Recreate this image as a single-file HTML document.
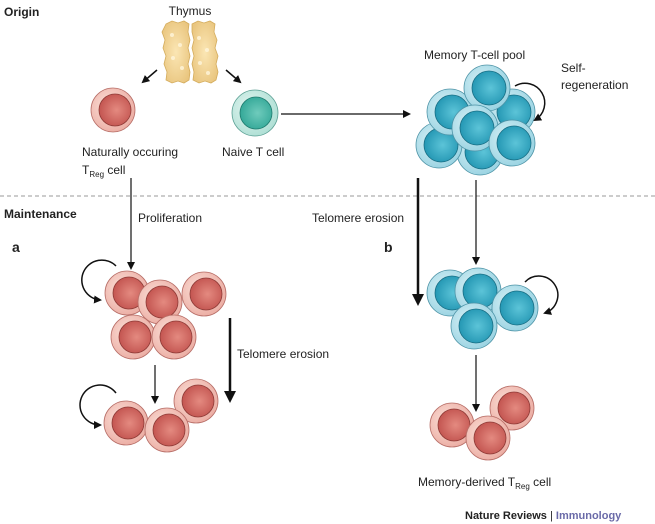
<!DOCTYPE html>
<html><head><style>body{margin:0;background:#fff}svg{display:block}text{font-family:"Liberation Sans",sans-serif;font-size:12px;fill:#222}</style></head><body>
<svg width="655" height="524" viewBox="0 0 655 524" xmlns="http://www.w3.org/2000/svg">
<defs>
<radialGradient id="ri" cx="0.55" cy="0.5" r="0.6"><stop offset="0" stop-color="#e48a80"/><stop offset="1" stop-color="#c0504c"/></radialGradient>
<radialGradient id="ro" cx="0.4" cy="0.4" r="0.7"><stop offset="0" stop-color="#fbe0d8"/><stop offset="1" stop-color="#eaa89e"/></radialGradient>
<radialGradient id="bi" cx="0.55" cy="0.5" r="0.6"><stop offset="0" stop-color="#5cc4d8"/><stop offset="1" stop-color="#1f93b0"/></radialGradient>
<radialGradient id="bo" cx="0.4" cy="0.4" r="0.7"><stop offset="0" stop-color="#d9f1f6"/><stop offset="1" stop-color="#93d0e0"/></radialGradient>
<radialGradient id="ti" cx="0.55" cy="0.5" r="0.6"><stop offset="0" stop-color="#6fcbbc"/><stop offset="1" stop-color="#2fa595"/></radialGradient>
<radialGradient id="to" cx="0.4" cy="0.4" r="0.7"><stop offset="0" stop-color="#e3f5f0"/><stop offset="1" stop-color="#a9ddd2"/></radialGradient>
<radialGradient id="th" cx="0.5" cy="0.5" r="0.6"><stop offset="0" stop-color="#fbe6b4"/><stop offset="1" stop-color="#e9c57e"/></radialGradient>
<marker id="ah" markerWidth="8" markerHeight="8" refX="6" refY="4" orient="auto" markerUnits="userSpaceOnUse"><path d="M0,0 L8,4 L0,8 Z" fill="#111"/></marker>
<marker id="ahb" markerWidth="12" markerHeight="12" refX="8" refY="6" orient="auto" markerUnits="userSpaceOnUse"><path d="M0,0 L12,6 L0,12 Z" fill="#111"/></marker>
<g id="rc"><circle r="22" fill="url(#ro)" stroke="#b86f68" stroke-width="0.8"/><circle cx="2" r="16" fill="url(#ri)" stroke="#8e3a36" stroke-width="0.8"/></g>
<g id="bc"><circle r="23" fill="url(#bo)" stroke="#4d93a6" stroke-width="0.8"/><circle cx="2" r="17" fill="url(#bi)" stroke="#176d83" stroke-width="0.8"/></g>
<g id="tc"><circle r="23" fill="url(#to)" stroke="#5a9f93" stroke-width="0.8"/><circle cx="1" r="16" fill="url(#ti)" stroke="#1d7a6d" stroke-width="0.8"/></g>
</defs>
<text x="4" y="16" style="font-weight:bold">Origin</text>
<text x="4" y="218" style="font-weight:bold">Maintenance</text>
<text x="12" y="252" style="font-weight:bold;font-size:14px">a</text>
<text x="384" y="252" style="font-weight:bold;font-size:14px">b</text>
<line x1="0" y1="196" x2="655" y2="196" stroke="#777" stroke-dasharray="4,3" stroke-width="0.8"/>
<text x="190" y="15" text-anchor="middle">Thymus</text>
<g fill="url(#th)" stroke="#d4ac5c" stroke-width="0.8">
<path d="M166,24 l6,-3 l6,2 l6,-2 l5,3 l-1,8 l2,8 l-2,8 l2,8 l-2,8 l2,8 l-1,8 l-5,3 l-6,-2 l-6,2 l-6,-3 l1,-8 l-3,-8 l2,-8 l-3,-8 l2,-8 l-3,-8z"/>
<path d="M192,24 l6,-3 l6,2 l6,-2 l5,3 l-1,8 l3,8 l-2,8 l3,8 l-2,8 l2,8 l-2,8 l-5,3 l-6,-2 l-6,2 l-6,-3 l1,-8 l-2,-8 l2,-8 l-2,-8 l2,-8 l-2,-8z"/>
</g>
<g fill="#fff6dc" opacity="0.8">
<circle cx="172" cy="35" r="2"/><circle cx="180" cy="45" r="2"/><circle cx="173" cy="58" r="2"/><circle cx="182" cy="68" r="2"/><circle cx="199" cy="38" r="2"/><circle cx="207" cy="50" r="2"/><circle cx="200" cy="63" r="2"/><circle cx="208" cy="73" r="2"/>
</g>
<line x1="157" y1="70" x2="143" y2="82" stroke="#111" stroke-width="1.5" marker-end="url(#ah)"/>
<line x1="226" y1="70" x2="240" y2="82" stroke="#111" stroke-width="1.5" marker-end="url(#ah)"/>
<use href="#rc" x="113" y="110"/>
<use href="#tc" x="255" y="113"/>
<text x="82" y="156">Naturally occuring</text>
<text x="82" y="174">T<tspan font-size="8" dy="3">Reg</tspan><tspan dy="-3"> cell</tspan></text>
<text x="222" y="156">Naive T cell</text>
<line x1="281" y1="114" x2="409" y2="114" stroke="#111" stroke-width="1.2" marker-end="url(#ah)"/>
<text x="424" y="59">Memory T-cell pool</text>
<use href="#bc" x="512" y="112"/><use href="#bc" x="480" y="152"/><use href="#bc" x="439" y="145"/><use href="#bc" x="450" y="112"/><use href="#bc" x="487" y="88"/><use href="#bc" x="475" y="128"/><use href="#bc" x="512" y="143"/>
<path d="M515,86 A18,18 0 1 1 535,120" fill="none" stroke="#111" stroke-width="1.5" marker-end="url(#ah)"/>
<text x="561" y="72">Self-</text><text x="561" y="89">regeneration</text>
<line x1="131" y1="178" x2="131" y2="268" stroke="#111" stroke-width="1.2" marker-end="url(#ah)"/>
<text x="138" y="222">Proliferation</text>
<use href="#rc" x="127" y="293"/><use href="#rc" x="204" y="294"/><use href="#rc" x="160" y="302"/><use href="#rc" x="133" y="337"/><use href="#rc" x="174" y="337"/>
<path d="M116,266 A20,20 0 1 0 100,300" fill="none" stroke="#111" stroke-width="1.5" marker-end="url(#ah)"/>
<line x1="155" y1="365" x2="155" y2="402" stroke="#111" stroke-width="1.2" marker-end="url(#ah)"/>
<line x1="230" y1="318" x2="230" y2="399" stroke="#111" stroke-width="2.5" marker-end="url(#ahb)"/>
<text x="237" y="358">Telomere erosion</text>
<use href="#rc" x="196" y="401"/><use href="#rc" x="126" y="423"/><use href="#rc" x="167" y="430"/>
<path d="M116,393 A20,20 0 1 0 100,425" fill="none" stroke="#111" stroke-width="1.5" marker-end="url(#ah)"/>
<line x1="418" y1="178" x2="418" y2="302" stroke="#111" stroke-width="2.5" marker-end="url(#ahb)"/>
<text x="312" y="222">Telomere erosion</text>
<line x1="476" y1="180" x2="476" y2="263" stroke="#111" stroke-width="1.2" marker-end="url(#ah)"/>
<use href="#bc" x="450" y="293"/><use href="#bc" x="478" y="291"/><use href="#bc" x="515" y="308"/><use href="#bc" x="474" y="326"/>
<path d="M525,282 A19,19 0 1 1 545,313" fill="none" stroke="#111" stroke-width="1.5" marker-end="url(#ah)"/>
<line x1="476" y1="355" x2="476" y2="410" stroke="#111" stroke-width="1.2" marker-end="url(#ah)"/>
<use href="#rc" x="512" y="408"/><use href="#rc" x="452" y="425"/><use href="#rc" x="488" y="438"/>
<text x="418" y="486">Memory-derived T<tspan font-size="8" dy="3">Reg</tspan><tspan dy="-3"> cell</tspan></text>
<text x="465" y="519" style="font-weight:bold;font-size:11px">Nature Reviews <tspan style="font-weight:normal;fill:#222">|</tspan> <tspan style="fill:#6a6aa8">Immunology</tspan></text>
</svg>
</body></html>
